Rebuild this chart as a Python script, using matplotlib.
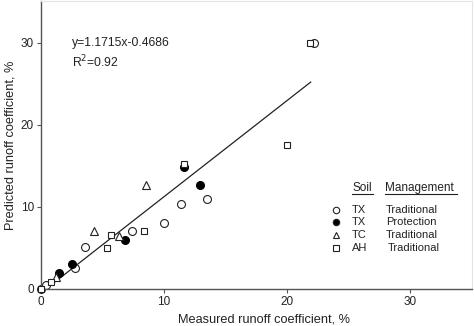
import matplotlib
matplotlib.use("Agg")
import matplotlib.pyplot as plt
import numpy as np

plt.rcParams['font.family'] = ['Liberation Sans', 'DejaVu Sans']

# measured vs predicted runoff coefficient (%)
tx_trad_x = [0.0, 0.4, 2.75, 3.6, 7.4, 10.0, 11.35, 13.5, 22.2]
tx_trad_y = [0.0, 0.5, 2.5, 5.1, 7.0, 8.0, 10.3, 11.0, 30.0]

tx_prot_x = [1.45, 2.5, 6.8, 11.65, 12.9]
tx_prot_y = [2.0, 3.0, 6.0, 14.9, 12.6]

tc_trad_x = [1.25, 4.3, 6.35, 8.5]
tc_trad_y = [1.45, 7.1, 6.5, 12.6]

ah_trad_x = [0.0, 0.85, 5.35, 5.7, 8.35, 11.6, 19.95, 21.85]
ah_trad_y = [0.0, 0.85, 5.0, 6.6, 7.0, 15.2, 17.55, 30.0]

slope, intercept = 1.1715, -0.4686
fit_x = np.array([0.3, 21.9])

legend_soil = ['TX', 'TX', 'TC', 'AH']
legend_mgmt = ['Traditional', 'Protection', 'Traditional', 'Traditional']

fig = plt.figure(figsize=(4.74, 3.26), dpi=100)
ax = fig.add_axes([0.0865, 0.1135, 0.9093, 0.882])

ax.plot(fit_x, slope * fit_x + intercept, color='#222222', lw=0.9, zorder=1)

ink = '#222222'
ax.plot(tx_trad_x, tx_trad_y, 'o', ms=5.7, mfc='white', mec=ink, mew=0.8, ls='none', zorder=2, clip_on=False)
ax.plot(tx_prot_x, tx_prot_y, 'o', ms=5.7, mfc='black', mec='black', mew=0.8, ls='none', zorder=3, clip_on=False)
ax.plot(tc_trad_x, tc_trad_y, '^', ms=5.8, mfc='white', mec=ink, mew=0.8, ls='none', zorder=4, clip_on=False)
ax.plot(ah_trad_x, ah_trad_y, 's', ms=5.0, mfc='white', mec=ink, mew=0.8, ls='none', zorder=5, clip_on=False)

ax.set_xlim(0, 35)
ax.set_ylim(0, 35)
ax.set_xticks([0, 10, 20, 30])
ax.set_yticks([0, 10, 20, 30])
ax.tick_params(direction='out', length=3, width=0.8, colors='#555555',
               labelcolor=ink, labelsize=8.5, pad=2)
ax.spines['left'].set_color('#555555')
ax.spines['bottom'].set_color('#555555')
ax.spines['left'].set_linewidth(1.0)
ax.spines['bottom'].set_linewidth(1.0)
ax.spines['top'].set_color('#e4e4e4')
ax.spines['right'].set_color('#e4e4e4')

ax.set_xlabel('Measured runoff coefficient, %', fontsize=9.2, color=ink, labelpad=3)
ax.set_ylabel('Predicted runoff coefficient, %', fontsize=9.2, color=ink, labelpad=3)
ax.xaxis.set_label_coords(0.517, -0.085)

ax.text(0.072, 0.855, 'y=1.1715x-0.4686', transform=ax.transAxes, fontsize=8.7,
        color=ink, va='center')
ax.text(0.072, 0.79, r'R$^2$=0.92', transform=ax.transAxes, fontsize=8.7,
        color=ink, va='center')

# hand-built legend table
def fx(px):
    return (px - 41) / 431.0

def fy(py):
    return (289 - py) / 287.5

hdr_y = fy(188)
ax.text(fx(352), hdr_y, 'Soil', transform=ax.transAxes, fontsize=8.5,
        color=ink, va='center')
ax.text(fx(385), hdr_y, 'Management', transform=ax.transAxes, fontsize=8.5,
        color=ink, va='center')
ax.plot([fx(352), fx(373)], [fy(194), fy(194)], transform=ax.transAxes,
        color=ink, lw=0.8, clip_on=False)
ax.plot([fx(385), fx(457)], [fy(194), fy(194)], transform=ax.transAxes,
        color=ink, lw=0.8, clip_on=False)

row_y = [210.5, 222.5, 235, 248]
styles = [('o', 'white'), ('o', 'black'), ('^', 'white'), ('s', 'white')]
for i, (m, fc) in enumerate(styles):
    yy = fy(row_y[i])
    ax.plot([fx(336)], [yy], m, transform=ax.transAxes, ms=4.6 if m != 's' else 4.2,
            mfc=fc, mec=ink, mew=0.8, clip_on=False)
    ax.text(fx(352), yy, legend_soil[i], transform=ax.transAxes, fontsize=8,
            color=ink, va='center')
    ax.text(fx(386) + (0.004 if i == 3 else 0), yy, legend_mgmt[i],
            transform=ax.transAxes, fontsize=8, color=ink, va='center')

fig.savefig('out.png', dpi=100)
